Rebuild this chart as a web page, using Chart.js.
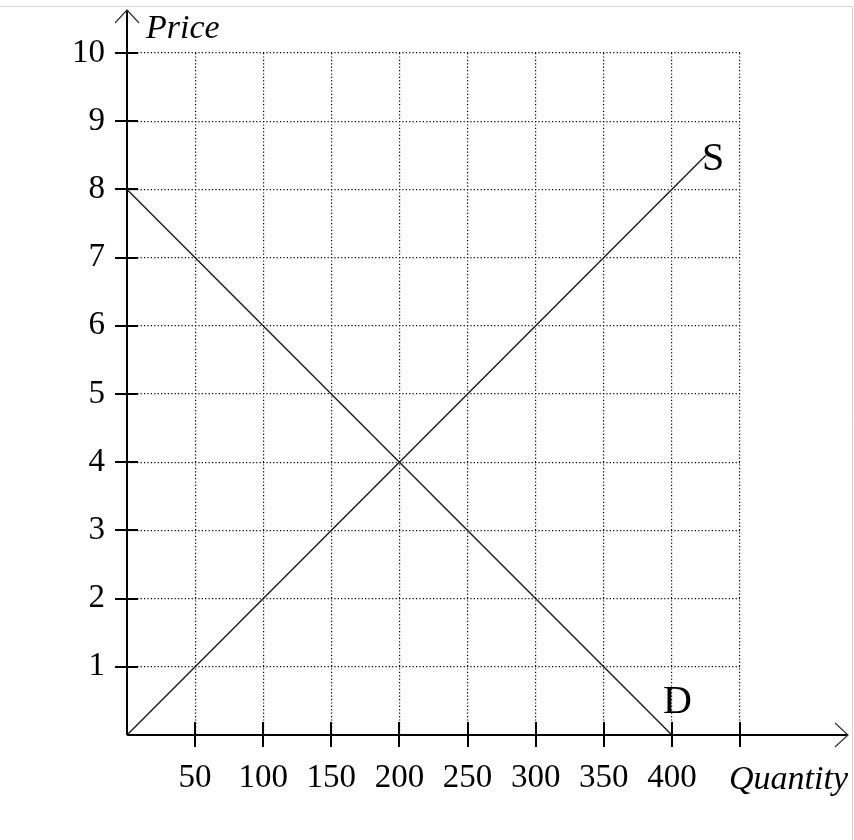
<!DOCTYPE html>
<html>
<head>
<meta charset="utf-8">
<script src="https://cdn.jsdelivr.net/npm/chart.js@4/dist/chart.umd.min.js"></script>
<style>
  html, body { margin: 0; padding: 0; background: #fff; }
  #wrap { width: 854px; height: 840px; position: relative; }
</style>
</head>
<body>
<div id="wrap"><canvas id="c" width="854" height="840"></canvas></div>
<script>
// ---- data ----
const xTickValues = [0, 50, 100, 150, 200, 250, 300, 350, 400, 450];
const xTickLabels = ["", "50", "100", "150", "200", "250", "300", "350", "400", ""];
const yTickValues = [0, 1, 2, 3, 4, 5, 6, 7, 8, 9, 10];
const yTickLabels = ["", "1", "2", "3", "4", "5", "6", "7", "8", "9", "10"];
const supplyQ = [0, 425];
const supplyP = [0, 8.5];
const demandQ = [0, 400];
const demandP = [8, 0];
const xTitle = "Quantity";
const yTitle = "Price";
const supplyLabel = "S";
const demandLabel = "D";

const toPts = (xs, ys) => xs.map((x, i) => ({ x: x, y: ys[i] }));

const decorPlugin = {
  id: 'decor',
  afterDraw(chart) {
    const ctx = chart.ctx;
    const xs = chart.scales.x, ys = chart.scales.y;
    const x0 = xs.getPixelForValue(0), y0 = ys.getPixelForValue(0);
    ctx.save();
    // frame lines
    ctx.strokeStyle = '#d4d4d4';
    ctx.lineWidth = 1;
    ctx.beginPath();
    ctx.moveTo(0, 6.5); ctx.lineTo(852.5, 6.5);
    ctx.moveTo(852.5, 6.5); ctx.lineTo(852.5, 840);
    ctx.stroke();
    // axes
    ctx.strokeStyle = '#000';
    ctx.lineWidth = 2;
    ctx.beginPath();
    ctx.moveTo(x0, y0); ctx.lineTo(x0, 10);
    ctx.moveTo(x0, y0); ctx.lineTo(848, y0);
    ctx.stroke();
    // tick crosses
    ctx.lineWidth = 2;
    ctx.beginPath();
    yTickValues.forEach(v => {
      if (v === 0) return;
      const py = Math.round(ys.getPixelForValue(v));
      ctx.moveTo(x0 - 12, py); ctx.lineTo(x0 + 11, py);
    });
    xTickValues.forEach(v => {
      if (v === 0) return;
      const px = Math.round(xs.getPixelForValue(v));
      ctx.moveTo(px, y0 - 13); ctx.lineTo(px, y0 + 12);
    });
    ctx.stroke();
    // arrowheads
    ctx.lineWidth = 1.2;
    ctx.strokeStyle = '#333';
    ctx.beginPath();
    ctx.moveTo(x0 - 12, 23); ctx.lineTo(x0, 10); ctx.lineTo(x0 + 12, 23);
    ctx.moveTo(835, y0 - 12); ctx.lineTo(848, y0); ctx.lineTo(835, y0 + 12);
    ctx.stroke();
    // titles
    ctx.fillStyle = '#000';
    ctx.textBaseline = 'alphabetic';
    ctx.textAlign = 'left';
    ctx.font = 'italic 34px "Liberation Serif", "DejaVu Serif", serif';
    ctx.fillText(yTitle, 146, 38);
    ctx.fillText(xTitle, 729, 789);
    // curve labels
    ctx.font = '40px "Liberation Serif", "DejaVu Serif", serif';
    ctx.fillText(supplyLabel, 702, 170);
    ctx.fillText(demandLabel, 663, 713);
    ctx.restore();
  }
};

new Chart(document.getElementById('c'), {
  type: 'scatter',
  data: {
    datasets: [
      { label: 'Supply', data: toPts(supplyQ, supplyP), showLine: true, borderColor: '#1a1a1a', borderWidth: 1.4, pointRadius: 0, fill: false },
      { label: 'Demand', data: toPts(demandQ, demandP), showLine: true, borderColor: '#1a1a1a', borderWidth: 1.4, pointRadius: 0, fill: false }
    ]
  },
  options: {
    responsive: false,
    animation: false,
    events: [],
    layout: { padding: { top: 53, right: 114, left: 0, bottom: 0 } },
    plugins: { legend: { display: false }, tooltip: { enabled: false } },
    scales: {
      x: {
        type: 'linear', min: 0, max: 450,
        afterBuildTicks(scale) { scale.ticks = xTickValues.map(v => ({ value: v })); },
        afterFit(scale) { scale.height = 105; },
        grid: { color: '#000', lineWidth: 1.2, drawTicks: false },
        border: { display: false, dash: [1.2, 2.2] },
        ticks: {
          padding: 24, maxRotation: 0, autoSkip: false, color: '#000',
          font: { family: '"Liberation Serif", "DejaVu Serif", serif', size: 33 },
          callback(v) { const i = xTickValues.indexOf(v); return i >= 0 ? xTickLabels[i] : ''; }
        }
      },
      y: {
        type: 'linear', min: 0, max: 10,
        afterBuildTicks(scale) { scale.ticks = yTickValues.map(v => ({ value: v })); },
        afterFit(scale) { scale.width = 127; },
        grid: { color: '#000', lineWidth: 1.2, drawTicks: false },
        border: { display: false, dash: [1.2, 2.2] },
        ticks: {
          padding: 22, autoSkip: false, color: '#000',
          font: { family: '"Liberation Serif", "DejaVu Serif", serif', size: 33 },
          callback(v) { const i = yTickValues.indexOf(v); return i >= 0 ? yTickLabels[i] : ''; }
        }
      }
    }
  },
  plugins: [decorPlugin]
});
</script>
</body>
</html>
